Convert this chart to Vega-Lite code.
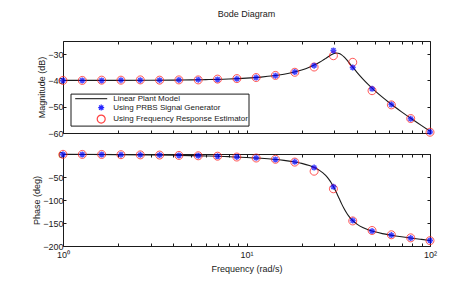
{
  "$schema": "https://vega.github.io/schema/vega-lite/v6.json",
  "padding": {"left": 32, "top": 9, "right": 5, "bottom": 5},
  "background": "white",
  "spacing": 21,
  "bounds": "flush",
  "resolve": {
    "scale": {"color": "independent", "shape": "independent"},
    "legend": {"color": "independent", "shape": "independent"}
  },
  "config": {
    "font": "Liberation Sans",
    "view": {"stroke": "#1a1a1a", "strokeWidth": 1},
    "axis": {
      "domain": false, "grid": false,
      "tickColor": "#1a1a1a", "tickSize": -3, "tickWidth": 1,
      "labelFont": "Liberation Sans", "labelFontSize": 9, "labelColor": "#1a1a1a", "labelPadding": 3,
      "labelFlush": false, "labelOverlap": false,
      "titleFont": "Liberation Sans", "titleFontSize": 9, "titleFontWeight": "normal", "titleColor": "#1a1a1a"
    },
    "legend": {
      "title": null, "orient": "none", "legendX": 7.5, "legendY": 52.6,
      "strokeColor": "#1a1a1a", "fillColor": "white", "padding": 0,
      "symbolOffset": 25.7, "labelOffset": 7, "rowPadding": -1.5,
      "labelFont": "Liberation Sans", "labelFontSize": 8, "labelColor": "#1a1a1a", "labelLimit": 400,
      "symbolSize": 64, "symbolStrokeWidth": 1.2
    },
    "title": {"font": "Liberation Sans", "fontSize": 9, "fontWeight": "normal", "color": "#1a1a1a"}
  },
  "datasets": {
    "model": [
      {"freq": 1, "mag": -39.99, "phase": -0.69, "series": "Linear Plant Model"},
      {"freq": 2, "mag": -39.97, "phase": -1.39, "series": "Linear Plant Model"},
      {"freq": 3, "mag": -39.93, "phase": -2.09, "series": "Linear Plant Model"},
      {"freq": 4, "mag": -39.87, "phase": -2.80, "series": "Linear Plant Model"},
      {"freq": 5, "mag": -39.79, "phase": -3.52, "series": "Linear Plant Model"},
      {"freq": 6, "mag": -39.70, "phase": -4.26, "series": "Linear Plant Model"},
      {"freq": 7, "mag": -39.59, "phase": -5.03, "series": "Linear Plant Model"},
      {"freq": 8, "mag": -39.46, "phase": -5.81, "series": "Linear Plant Model"},
      {"freq": 10, "mag": -39.14, "phase": -7.49, "series": "Linear Plant Model"},
      {"freq": 12, "mag": -38.74, "phase": -9.34, "series": "Linear Plant Model"},
      {"freq": 14, "mag": -38.25, "phase": -11.43, "series": "Linear Plant Model"},
      {"freq": 16, "mag": -37.64, "phase": -13.87, "series": "Linear Plant Model"},
      {"freq": 18, "mag": -36.91, "phase": -16.79, "series": "Linear Plant Model"},
      {"freq": 20, "mag": -36.05, "phase": -20.42, "series": "Linear Plant Model"},
      {"freq": 22, "mag": -35.00, "phase": -25.12, "series": "Linear Plant Model"},
      {"freq": 24, "mag": -33.78, "phase": -31.49, "series": "Linear Plant Model"},
      {"freq": 25, "mag": -33.09, "phase": -35.61, "series": "Linear Plant Model"},
      {"freq": 26, "mag": -32.37, "phase": -40.58, "series": "Linear Plant Model"},
      {"freq": 27, "mag": -31.62, "phase": -46.62, "series": "Linear Plant Model"},
      {"freq": 28, "mag": -30.89, "phase": -53.99, "series": "Linear Plant Model"},
      {"freq": 29, "mag": -30.24, "phase": -62.88, "series": "Linear Plant Model"},
      {"freq": 30, "mag": -29.77, "phase": -73.30, "series": "Linear Plant Model"},
      {"freq": 31, "mag": -29.58, "phase": -84.92, "series": "Linear Plant Model"},
      {"freq": 32, "mag": -29.75, "phase": -96.93, "series": "Linear Plant Model"},
      {"freq": 33, "mag": -30.26, "phase": -108.42, "series": "Linear Plant Model"},
      {"freq": 34, "mag": -31.04, "phase": -118.63, "series": "Linear Plant Model"},
      {"freq": 35, "mag": -31.98, "phase": -127.28, "series": "Linear Plant Model"},
      {"freq": 36, "mag": -33.00, "phase": -134.43, "series": "Linear Plant Model"},
      {"freq": 38, "mag": -35.02, "phase": -145.10, "series": "Linear Plant Model"},
      {"freq": 40, "mag": -36.90, "phase": -152.41, "series": "Linear Plant Model"},
      {"freq": 43, "mag": -39.37, "phase": -159.75, "series": "Linear Plant Model"},
      {"freq": 46, "mag": -41.48, "phase": -164.63, "series": "Linear Plant Model"},
      {"freq": 50, "mag": -43.86, "phase": -169.14, "series": "Linear Plant Model"},
      {"freq": 55, "mag": -46.36, "phase": -173.04, "series": "Linear Plant Model"},
      {"freq": 60, "mag": -48.47, "phase": -175.90, "series": "Linear Plant Model"},
      {"freq": 65, "mag": -50.32, "phase": -178.17, "series": "Linear Plant Model"},
      {"freq": 70, "mag": -51.96, "phase": -180.06, "series": "Linear Plant Model"},
      {"freq": 80, "mag": -54.79, "phase": -183.14, "series": "Linear Plant Model"},
      {"freq": 90, "mag": -57.19, "phase": -185.68, "series": "Linear Plant Model"},
      {"freq": 100, "mag": -59.29, "phase": -187.90, "series": "Linear Plant Model"}
    ],
    "prbs": [
      {"freq": 1, "mag": -40.0, "phase": -0.6, "series": "Using PRBS Signal Generator"},
      {"freq": 1.274, "mag": -40.0, "phase": -0.9, "series": "Using PRBS Signal Generator"},
      {"freq": 1.624, "mag": -40.0, "phase": -1.1, "series": "Using PRBS Signal Generator"},
      {"freq": 2.069, "mag": -39.9, "phase": -1.4, "series": "Using PRBS Signal Generator"},
      {"freq": 2.637, "mag": -39.9, "phase": -1.8, "series": "Using PRBS Signal Generator"},
      {"freq": 3.36, "mag": -39.9, "phase": -2.4, "series": "Using PRBS Signal Generator"},
      {"freq": 4.281, "mag": -39.8, "phase": -3.0, "series": "Using PRBS Signal Generator"},
      {"freq": 5.456, "mag": -39.7, "phase": -3.8, "series": "Using PRBS Signal Generator"},
      {"freq": 6.952, "mag": -39.6, "phase": -5.0, "series": "Using PRBS Signal Generator"},
      {"freq": 8.859, "mag": -39.4, "phase": -6.4, "series": "Using PRBS Signal Generator"},
      {"freq": 11.29, "mag": -38.9, "phase": -8.4, "series": "Using PRBS Signal Generator"},
      {"freq": 14.38, "mag": -38.2, "phase": -11.8, "series": "Using PRBS Signal Generator"},
      {"freq": 18.33, "mag": -36.8, "phase": -17.0, "series": "Using PRBS Signal Generator"},
      {"freq": 23.36, "mag": -34.4, "phase": -29.5, "series": "Using PRBS Signal Generator"},
      {"freq": 29.76, "mag": -28.6, "phase": -71.3, "series": "Using PRBS Signal Generator"},
      {"freq": 37.93, "mag": -35.1, "phase": -144.7, "series": "Using PRBS Signal Generator"},
      {"freq": 48.33, "mag": -43.2, "phase": -167.5, "series": "Using PRBS Signal Generator"},
      {"freq": 61.58, "mag": -49.2, "phase": -176.3, "series": "Using PRBS Signal Generator"},
      {"freq": 78.48, "mag": -54.6, "phase": -182.8, "series": "Using PRBS Signal Generator"},
      {"freq": 100, "mag": -59.6, "phase": -188.0, "series": "Using PRBS Signal Generator"}
    ],
    "fre": [
      {"freq": 1, "mag": -40.0, "phase": -0.7, "series": "Using Frequency Response Estimator"},
      {"freq": 1.274, "mag": -40.0, "phase": -0.9, "series": "Using Frequency Response Estimator"},
      {"freq": 1.624, "mag": -39.9, "phase": -1.0, "series": "Using Frequency Response Estimator"},
      {"freq": 2.069, "mag": -39.9, "phase": -1.5, "series": "Using Frequency Response Estimator"},
      {"freq": 2.637, "mag": -39.8, "phase": -1.9, "series": "Using Frequency Response Estimator"},
      {"freq": 3.36, "mag": -39.9, "phase": -2.3, "series": "Using Frequency Response Estimator"},
      {"freq": 4.281, "mag": -39.8, "phase": -3.1, "series": "Using Frequency Response Estimator"},
      {"freq": 5.456, "mag": -39.8, "phase": -3.9, "series": "Using Frequency Response Estimator"},
      {"freq": 6.952, "mag": -39.5, "phase": -4.8, "series": "Using Frequency Response Estimator"},
      {"freq": 8.859, "mag": -39.3, "phase": -6.6, "series": "Using Frequency Response Estimator"},
      {"freq": 11.29, "mag": -38.9, "phase": -8.7, "series": "Using Frequency Response Estimator"},
      {"freq": 14.38, "mag": -38.1, "phase": -11.5, "series": "Using Frequency Response Estimator"},
      {"freq": 18.33, "mag": -36.9, "phase": -17.6, "series": "Using Frequency Response Estimator"},
      {"freq": 23.36, "mag": -34.9, "phase": -37.4, "series": "Using Frequency Response Estimator"},
      {"freq": 29.76, "mag": -30.6, "phase": -75.6, "series": "Using Frequency Response Estimator"},
      {"freq": 37.93, "mag": -33.1, "phase": -145.5, "series": "Using Frequency Response Estimator"},
      {"freq": 48.33, "mag": -43.9, "phase": -166.3, "series": "Using Frequency Response Estimator"},
      {"freq": 61.58, "mag": -49.3, "phase": -175.6, "series": "Using Frequency Response Estimator"},
      {"freq": 78.48, "mag": -54.5, "phase": -182.3, "series": "Using Frequency Response Estimator"},
      {"freq": 100, "mag": -59.7, "phase": -188.4, "series": "Using Frequency Response Estimator"}
    ]
  },
  "vconcat": [
    {
      "width": 367, "height": 92,
      "title": {"text": "Bode Diagram", "offset": 22},
      "layer": [
        {
          "data": {"name": "model"},
          "mark": {"type": "line", "strokeWidth": 1.1, "interpolate": "monotone"},
          "encoding": {
            "x": {"field": "freq", "type": "quantitative",
                  "scale": {"type": "log", "domain": [1, 100], "nice": false},
                  "axis": {"orient": "bottom", "values": [1,2,3,4,5,6,7,8,9,10,20,30,40,50,60,70,80,90,100], "labels": false, "title": null}},
            "y": {"field": "mag", "type": "quantitative",
                  "scale": {"domain": [-60, -25], "nice": false, "zero": false},
                  "axis": {"orient": "left", "values": [-60, -50, -40, -30], "title": "Magnitude (dB)", "titlePadding": 1}},
            "color": {"field": "series", "type": "nominal",
                      "scale": {"domain": ["Linear Plant Model", "Using PRBS Signal Generator", "Using Frequency Response Estimator"],
                                "range": ["#1a1a1a", "#0000ff", "#ff2020"]}}
          }
        },
        {
          "data": {"name": "fre"},
          "mark": {"type": "point", "filled": false, "size": 64, "strokeWidth": 0.9, "opacity": 0.85},
          "encoding": {
            "x": {"field": "freq", "type": "quantitative",
                  "axis": {"orient": "top", "values": [1,2,3,4,5,6,7,8,9,10,20,30,40,50,60,70,80,90,100], "labels": false, "title": null}},
            "y": {"field": "mag", "type": "quantitative",
                  "axis": {"orient": "right", "values": [-60, -50, -40, -30], "labels": false, "title": null}},
            "color": {"field": "series", "type": "nominal"},
            "shape": {"field": "series", "type": "nominal",
                      "scale": {"domain": ["Linear Plant Model", "Using PRBS Signal Generator", "Using Frequency Response Estimator"],
                                "range": ["M-6.5,0L1.5,0",
                                          "M-0.75,0L0.75,0M0,-0.75L0,0.75M-0.53,-0.53L0.53,0.53M-0.53,0.53L0.53,-0.53",
                                          "M1,0A1,1,0,1,1,-1,0A1,1,0,1,1,1,0Z"]}}
          }
        },
        {
          "data": {"name": "prbs"},
          "mark": {"type": "point", "filled": false, "size": 64, "strokeWidth": 1.5},
          "encoding": {
            "x": {"field": "freq", "type": "quantitative", "axis": null},
            "y": {"field": "mag", "type": "quantitative", "axis": null},
            "color": {"field": "series", "type": "nominal"},
            "shape": {"field": "series", "type": "nominal"}
          }
        }
      ],
      "resolve": {"axis": {"x": "independent", "y": "independent"}}
    },
    {
      "width": 367, "height": 92,
      "layer": [
        {
          "data": {"name": "model"},
          "mark": {"type": "line", "strokeWidth": 1.1, "interpolate": "monotone"},
          "encoding": {
            "x": {"field": "freq", "type": "quantitative",
                  "scale": {"type": "log", "domain": [1, 100], "nice": false},
                  "axis": {"orient": "bottom", "values": [1,2,3,4,5,6,7,8,9,10,20,30,40,50,60,70,80,90,100],
                           "labelExpr": "datum.value == 1 ? '10⁰' : datum.value == 10 ? '10¹' : datum.value == 100 ? '10²' : ''",
                           "labelPadding": 7.5, "title": "Frequency (rad/s)", "titlePadding": 5}},
            "y": {"field": "phase", "type": "quantitative",
                  "scale": {"domain": [-200, 0], "nice": false, "zero": false},
                  "axis": {"orient": "left", "values": [-200, -150, -100, -50, 0], "title": "Phase (deg)", "titlePadding": 1}},
            "color": {"field": "series", "type": "nominal",
                      "scale": {"domain": ["Linear Plant Model", "Using PRBS Signal Generator", "Using Frequency Response Estimator"],
                                "range": ["#1a1a1a", "#0000ff", "#ff2020"]},
                      "legend": null}
          }
        },
        {
          "data": {"name": "fre"},
          "mark": {"type": "point", "filled": false, "size": 64, "strokeWidth": 0.9, "opacity": 0.85},
          "encoding": {
            "x": {"field": "freq", "type": "quantitative",
                  "axis": {"orient": "top", "values": [1,2,3,4,5,6,7,8,9,10,20,30,40,50,60,70,80,90,100], "labels": false, "title": null}},
            "y": {"field": "phase", "type": "quantitative",
                  "axis": {"orient": "right", "values": [-200, -150, -100, -50, 0], "labels": false, "title": null}},
            "color": {"field": "series", "type": "nominal", "legend": null},
            "shape": {"field": "series", "type": "nominal",
                      "scale": {"domain": ["Linear Plant Model", "Using PRBS Signal Generator", "Using Frequency Response Estimator"],
                                "range": ["M-6.5,0L1.5,0",
                                          "M-0.75,0L0.75,0M0,-0.75L0,0.75M-0.53,-0.53L0.53,0.53M-0.53,0.53L0.53,-0.53",
                                          "M1,0A1,1,0,1,1,-1,0A1,1,0,1,1,1,0Z"]},
                      "legend": null}
          }
        },
        {
          "data": {"name": "prbs"},
          "mark": {"type": "point", "filled": false, "size": 64, "strokeWidth": 1.5},
          "encoding": {
            "x": {"field": "freq", "type": "quantitative", "axis": null},
            "y": {"field": "phase", "type": "quantitative", "axis": null},
            "color": {"field": "series", "type": "nominal", "legend": null},
            "shape": {"field": "series", "type": "nominal", "legend": null}
          }
        }
      ],
      "resolve": {"axis": {"x": "independent", "y": "independent"}}
    }
  ]
}
